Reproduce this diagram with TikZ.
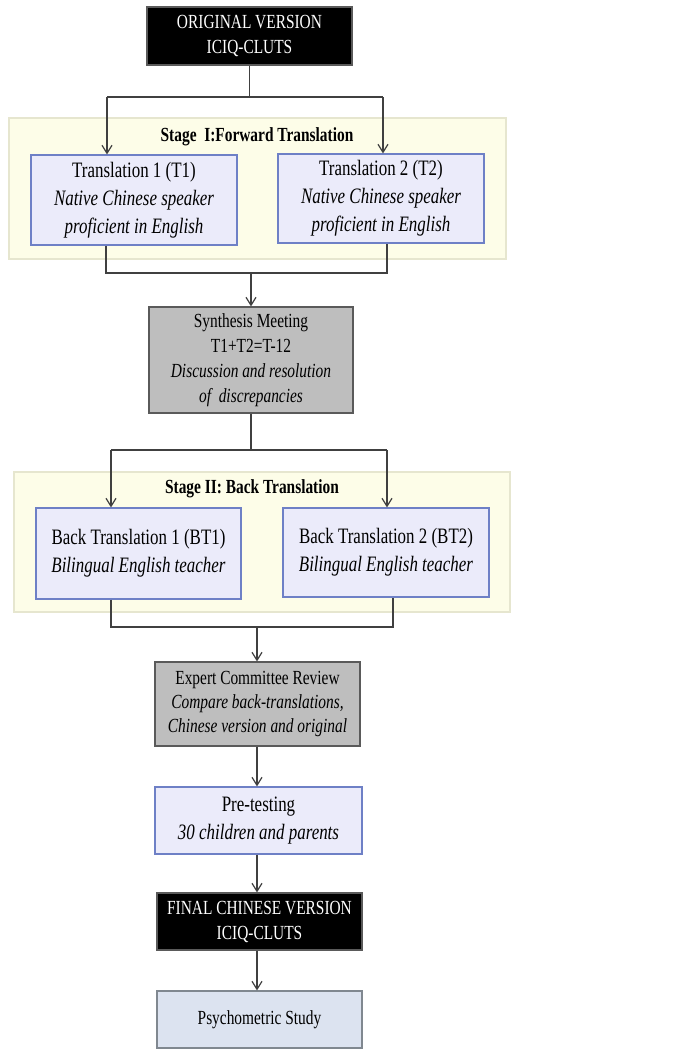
\documentclass[tikz,border=0pt]{standalone}
\usepackage{fontspec}
\setmainfont{Liberation Serif}[FakeStretch=0.77]
\usetikzlibrary{arrows.meta,positioning}

\definecolor{panelfill}{HTML}{FDFDE8}
\definecolor{paneldraw}{HTML}{E6E6CF}
\definecolor{bluefill}{HTML}{EBEBFA}
\definecolor{bluedraw}{HTML}{6E80C6}
\definecolor{greyfill}{HTML}{BEBEBE}
\definecolor{greydraw}{HTML}{5A5A5A}
\definecolor{studyfill}{HTML}{DCE3F0}
\definecolor{studydraw}{HTML}{808890}
\definecolor{linegrey}{HTML}{404040}

\tikzset{
  bigtext/.style={font=\fontsize{11}{14}\selectfont},
  smalltext/.style={font=\fontsize{10}{12.5}\selectfont},
  box/.style={rectangle, align=center, inner sep=0pt, line width=0.6pt},
  blackbox/.style={box, fill=black, draw=greydraw, text=white, smalltext},
  greybox/.style={box, fill=greyfill, draw=greydraw, smalltext},
  bluebox/.style={box, fill=bluefill, draw=bluedraw, bigtext},
  studybox/.style={box, fill=studyfill, draw=studydraw, smalltext},
  panel/.style={fill=panelfill, draw=paneldraw, line width=0.6pt},
  conn/.style={draw=linegrey, line width=0.6pt},
  arr/.style={conn, -{Straight Barb[length=4pt,width=5pt]}},
}

\begin{document}
\begin{tikzpicture}[x=0.5pt, y=-0.5pt]
  \useasboundingbox (0,0) rectangle (685,1057);

  % stage panels
  \draw[panel] (9,118) rectangle (506,259);
  \draw[panel] (14,472) rectangle (510,612);
  \node[font=\fontsize{10}{12}\selectfont\bfseries] (stage1) at (257,137) {Stage\ \ I:Forward Translation};
  \node[font=\fontsize{10}{12}\selectfont\bfseries] (stage2) at (252,489) {Stage II: Back Translation};

  % boxes
  \node[blackbox, minimum width=102.5pt, minimum height=29pt] (orig) at (249.5,36)
    {ORIGINAL VERSION\\ICIQ-CLUTS};
  \node[bluebox, minimum width=103pt, minimum height=45pt] (t1) at (134,200)
    {Translation 1 (T1)\\\textit{Native Chinese speaker}\\\textit{proficient in English}};
  \node[bluebox, minimum width=103pt, minimum height=44.5pt] (t2) at (381,198.5)
    {Translation 2 (T2)\\\textit{Native Chinese speaker}\\\textit{proficient in English}};
  \node[greybox, minimum width=102pt, minimum height=53pt] (synth) at (251,360)
    {Synthesis Meeting\\T1+T2=T-12\\\textit{Discussion and resolution}\\\textit{of\ \ discrepancies}};
  \node[bluebox, minimum width=102.5pt, minimum height=45.5pt] (bt1) at (138.5,553.5)
    {Back Translation 1 (BT1)\\\textit{Bilingual English teacher}};
  \node[bluebox, minimum width=103pt, minimum height=44.5pt] (bt2) at (386,552.5)
    {Back Translation 2 (BT2)\\\textit{Bilingual English teacher}};
  \node[greybox, minimum width=102.5pt, minimum height=42pt, font=\fontsize{10}{12}\selectfont] (expert) at (257.5,704)
    {Expert Committee Review\\\textit{Compare back-translations,}\\\textit{Chinese version and original}};
  \node[bluebox, minimum width=103.5pt, minimum height=33.5pt] (pretest) at (258.5,820.5)
    {Pre-testing\\\textit{30 children and parents}};
  \node[blackbox, minimum width=102.5pt, minimum height=28.5pt] (final) at (259.5,921.5)
    {FINAL CHINESE VERSION\\ICIQ-CLUTS};
  \node[studybox, minimum width=102.5pt, minimum height=28.5pt] (study) at (259.5,1019.5)
    {Psychometric Study};

  % forks and joins
  \coordinate (f1l) at (107,97);
  \coordinate (f1r) at (383,97);
  \coordinate (j1l) at (106,273);
  \coordinate (j1r) at (387,273);
  \coordinate (j1m) at (251,273);
  \coordinate (f2l) at (111,450);
  \coordinate (f2r) at (387,450);
  \coordinate (j2l) at (111,627);
  \coordinate (j2r) at (393,627);
  \coordinate (j2m) at (257,627);

  \draw[conn] (orig) -- (orig |- f1l);
  \draw[conn] (f1l) -- (f1r);
  \draw[arr] (f1l) -- (f1l |- t1.north);
  \draw[arr] (f1r) -- (f1r |- t2.north);

  \draw[conn] (j1l |- t1.south) -- (j1l) -- (j1r) -- (j1r |- t2.south);
  \draw[arr] (j1m) -- (j1m |- synth.north);

  \draw[conn] (synth) -- (synth |- f2l);
  \draw[conn] (f2l) -- (f2r);
  \draw[arr] (f2l) -- (f2l |- bt1.north);
  \draw[arr] (f2r) -- (f2r |- bt2.north);

  \draw[conn] (j2l |- bt1.south) -- (j2l) -- (j2r) -- (j2r |- bt2.south);
  \draw[arr] (j2m) -- (j2m |- expert.north);

  \draw[arr] (expert.south -| j2m) -- (j2m |- pretest.north);
  \draw[arr] (pretest.south -| j2m) -- (j2m |- final.north);
  \draw[arr] (final.south -| j2m) -- (j2m |- study.north);
\end{tikzpicture}
\end{document}
